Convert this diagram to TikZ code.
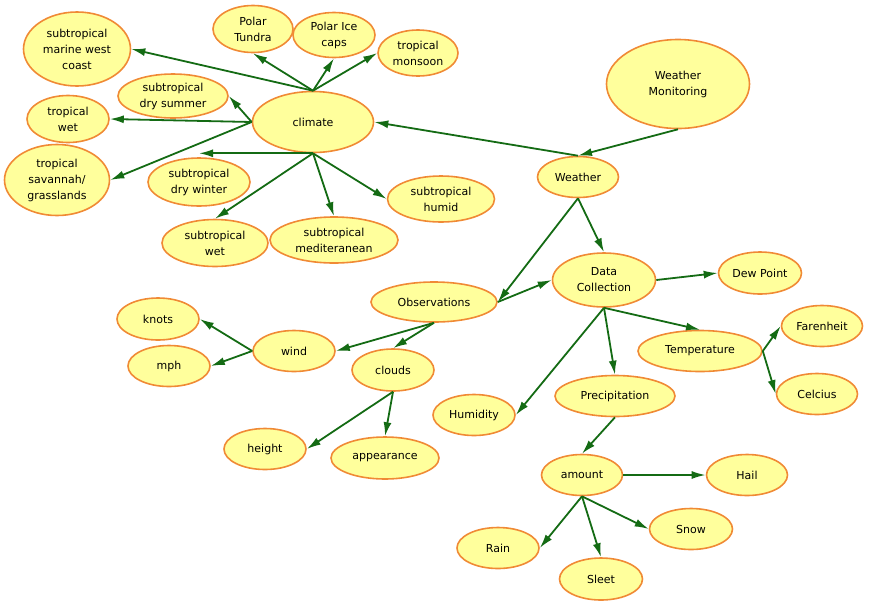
\documentclass[tikz,border=0pt]{standalone}
\usepackage{fontspec}
\setmainfont{DejaVu Sans}
\usepackage{tikz}
\usetikzlibrary{shapes.geometric,arrows.meta}
\definecolor{conceptfill}{HTML}{FFFF9C}
\definecolor{conceptline}{HTML}{F08A35}
\definecolor{linkgreen}{HTML}{146B14}

\begin{document}
\begin{tikzpicture}[x=1pt,y=-1pt,
  concept/.style={ellipse,draw=conceptline,fill=conceptfill,line width=1.6pt,
    inner sep=1pt,align=center,font=\fontsize{11}{16}\selectfont},
  link/.style={color=linkgreen,line width=1.8pt,-{Latex[length=14pt,width=8pt]}}]
  \useasboundingbox (0,0) rectangle (869,606);

  % climate side
  \node (marine) at (77,49) [concept,minimum width=107pt,minimum height=74pt] {subtropical\\marine west\\coast};
  \node (tundra) at (253,29) [concept,minimum width=80pt,minimum height=47pt] {Polar\\Tundra};
  \node (icecaps) at (334,35) [concept,minimum width=82pt,minimum height=45pt] {Polar Ice\\caps};
  \node (monsoon) at (418,53) [concept,minimum width=80pt,minimum height=46pt] {tropical\\monsoon};
  \node (drysummer) at (173,96) [concept,minimum width=110pt,minimum height=44pt] {subtropical\\dry summer};
  \node (climate) at (313,122) [concept,minimum width=121pt,minimum height=61pt] {climate};
  \node (tropwet) at (68,119) [concept,minimum width=82pt,minimum height=47pt] {tropical\\wet};
  \node (savannah) at (57,180) [concept,minimum width=105pt,minimum height=71pt] {tropical\\savannah/\\grasslands};
  \node (drywinter) at (199,182) [concept,minimum width=102pt,minimum height=48pt] {subtropical\\dry winter};
  \node (humid) at (441,199) [concept,minimum width=107pt,minimum height=46pt] {subtropical\\humid};
  \node (subwet) at (215,243) [concept,minimum width=106pt,minimum height=47pt] {subtropical\\wet};
  \node (medit) at (334,240) [concept,minimum width=128pt,minimum height=46pt] {subtropical\\mediteranean};

  % weather and data
  \node (monitor) at (678,84) [concept,minimum width=143pt,minimum height=89pt] {Weather\\Monitoring};
  \node (weather) at (578,177) [concept,minimum width=81pt,minimum height=41pt] {Weather};
  \node (data) at (604,280) [concept,minimum width=103pt,minimum height=54pt] {Data\\Collection};
  \node (dew) at (760,273) [concept,minimum width=83pt,minimum height=42pt] {Dew Point};
  \node (obs) at (434,302) [concept,minimum width=126pt,minimum height=40pt] {Observations};
  \node (temp) at (700,351) [concept,minimum width=124pt,minimum height=41pt] {Temperature};
  \node (faren) at (822,326) [concept,minimum width=81pt,minimum height=41pt] {Farenheit};
  \node (celc) at (817,394) [concept,minimum width=81pt,minimum height=41pt] {Celcius};
  \node (precip) at (615,396) [concept,minimum width=120pt,minimum height=41pt] {Precipitation};
  \node (humidity) at (474,415) [concept,minimum width=82pt,minimum height=41pt] {Humidity};
  \node (amount) at (582,475) [concept,minimum width=81pt,minimum height=41pt] {amount};
  \node (hail) at (747,475) [concept,minimum width=81pt,minimum height=41pt] {Hail};
  \node (snow) at (691,529) [concept,minimum width=83pt,minimum height=41pt] {Snow};
  \node (rain) at (498,548) [concept,minimum width=82pt,minimum height=41pt] {Rain};
  \node (sleet) at (601,579) [concept,minimum width=83pt,minimum height=42pt] {Sleet};

  % observations side
  \node (knots) at (158,319) [concept,minimum width=82pt,minimum height=42pt] {knots};
  \node (wind) at (294,351) [concept,minimum width=82pt,minimum height=41pt] {wind};
  \node (mph) at (169,366) [concept,minimum width=82pt,minimum height=41pt] {mph};
  \node (clouds) at (393,370) [concept,minimum width=82pt,minimum height=42pt] {clouds};
  \node (height) at (265,449) [concept,minimum width=82pt,minimum height=41pt] {height};
  \node (appear) at (385,458) [concept,minimum width=108pt,minimum height=42pt] {appearance};

\path[link]
   (climate.north) edge (marine.east) edge (tundra.south) edge (icecaps.south) edge (monsoon.west)
   (climate.west) edge (drysummer.east) edge (tropwet.east) edge (savannah.east)
   (climate.south) edge (climate.south -| drywinter.north) edge (subwet.north)
     edge (medit.north) edge (humid.west);

\path[link]
   (monitor.south) edge (weather.north)
   (weather.north) edge (climate.east)
   (weather.south) edge (obs.east) edge (data.north)
   (obs.east) edge (data.west)
   (data.east) edge (dew.west)
   (data.south) edge (temp.north) edge (precip.north) edge (humidity.east)
   (temp.east) edge (faren.west) edge (celc.west)
   (precip.south) edge (amount.north)
   (amount.east) edge (hail.west)
   (amount.south) edge (rain.east) edge (sleet.north) edge (snow.west);

\path[link]
   (obs.south) edge (wind.east) edge (clouds.north)
   (wind.west) edge (knots.east) edge (mph.east)
   (clouds.south) edge (height.east) edge (appear.north);

\end{tikzpicture}
\end{document}
